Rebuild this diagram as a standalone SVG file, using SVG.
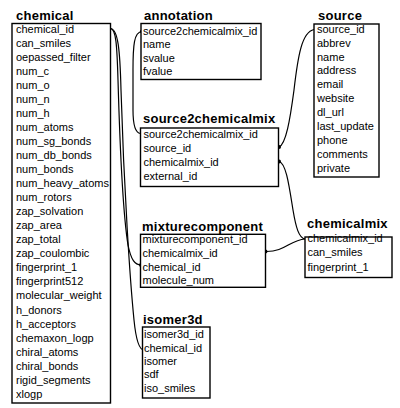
<svg xmlns="http://www.w3.org/2000/svg" width="400" height="408" viewBox="0 0 400 408">
<style>
.box{fill:#fff;stroke:#000;stroke-width:1.4}
.t{font-family:"Liberation Sans",Arial,sans-serif;font-size:13px;font-weight:bold;letter-spacing:0.25px;fill:#000}
.r{font-family:"Liberation Sans",Arial,sans-serif;font-size:11px;fill:#000}
.c{fill:none;stroke:#000;stroke-width:1.2}
.d{fill:#000}
</style>
<rect width="400" height="408" fill="#fff"/>
<g id="connectors">
<path class="c" d="M142,31.5 C134,32 133,45 133,70 L133,110 C133,125 135,133 140.5,133.5"/>
<path class="c" d="M110.5,28.5 C116,29 117,45 118,80 C120,150 124,220 128,245 C131,260 135,265 141,265"/>
<path class="c" d="M110.5,28.5 C118,29 120,50 121,90 C124,190 130,280 134,320 C136,340 139,350 144,350"/>
<path class="c" d="M279,147 C286,144 290,120 294,90 C298,55 302,32 314,29.5"/>
<path class="c" d="M279,161.5 C286,163 289,185 293,210 C296,228 299,238 305,239"/>
<path class="c" d="M265.5,251.5 C285,252 290,240 305,239"/>
<circle class="d" cx="142" cy="31.5" r="2"/>
<circle class="d" cx="141" cy="265" r="2"/>
<circle class="d" cx="144" cy="350" r="2"/>
<circle class="d" cx="279" cy="147" r="2"/>
<circle class="d" cx="279" cy="161.5" r="2"/>
<circle class="d" cx="265.5" cy="251.5" r="2"/>
</g>
<g id="chemical">
<text class="t" x="16" y="20">chemical</text>
<rect class="box" x="12" y="23.5" width="98.5" height="379.5"/>
<text class="r" x="16" y="32.5">chemical_id</text>
<text class="r" x="16" y="46.5">can_smiles</text>
<text class="r" x="16" y="60.6">oepassed_filter</text>
<text class="r" x="16" y="74.6">num_c</text>
<text class="r" x="16" y="88.7">num_o</text>
<text class="r" x="16" y="102.7">num_n</text>
<text class="r" x="16" y="116.8">num_h</text>
<text class="r" x="16" y="130.8">num_atoms</text>
<text class="r" x="16" y="144.9">num_sg_bonds</text>
<text class="r" x="16" y="158.9">num_db_bonds</text>
<text class="r" x="16" y="173">num_bonds</text>
<text class="r" x="16" y="187">num_heavy_atoms</text>
<text class="r" x="16" y="201.1">num_rotors</text>
<text class="r" x="16" y="215.1">zap_solvation</text>
<text class="r" x="16" y="229.2">zap_area</text>
<text class="r" x="16" y="243.2">zap_total</text>
<text class="r" x="16" y="257.3">zap_coulombic</text>
<text class="r" x="16" y="271.3">fingerprint_1</text>
<text class="r" x="16" y="285.4">fingerprint512</text>
<text class="r" x="16" y="299.4">molecular_weight</text>
<text class="r" x="16" y="313.5">h_donors</text>
<text class="r" x="16" y="327.5">h_acceptors</text>
<text class="r" x="16" y="341.6">chemaxon_logp</text>
<text class="r" x="16" y="355.6">chiral_atoms</text>
<text class="r" x="16" y="369.7">chiral_bonds</text>
<text class="r" x="16" y="383.7">rigid_segments</text>
<text class="r" x="16" y="397.8">xlogp</text>
</g>
<g id="annotation">
<text class="t" x="144" y="20">annotation</text>
<rect class="box" x="141" y="23.5" width="120" height="56"/>
<text class="r" x="143" y="34.5">source2chemicalmix_id</text>
<text class="r" x="143" y="48">name</text>
<text class="r" x="143" y="61.5">svalue</text>
<text class="r" x="143" y="75">fvalue</text>
</g>
<g id="source">
<text class="t" x="318" y="20">source</text>
<rect class="box" x="314" y="24" width="65" height="153"/>
<text class="r" x="317" y="32.7">source_id</text>
<text class="r" x="317" y="46.6">abbrev</text>
<text class="r" x="317" y="60.5">name</text>
<text class="r" x="317" y="74.4">address</text>
<text class="r" x="317" y="88.3">email</text>
<text class="r" x="317" y="102.2">website</text>
<text class="r" x="317" y="116.1">dl_url</text>
<text class="r" x="317" y="130">last_update</text>
<text class="r" x="317" y="143.9">phone</text>
<text class="r" x="317" y="157.8">comments</text>
<text class="r" x="317" y="171.7">private</text>
</g>
<g id="source2chemicalmix">
<text class="t" x="143" y="122.7">source2chemicalmix</text>
<rect class="box" x="140.5" y="128" width="138" height="58.5"/>
<text class="r" x="143.5" y="137.7">source2chemicalmix_id</text>
<text class="r" x="143.5" y="151.8">source_id</text>
<text class="r" x="143.5" y="165.9">chemicalmix_id</text>
<text class="r" x="143.5" y="180">external_id</text>
</g>
<g id="mixturecomponent">
<text class="t" x="142" y="230.7">mixturecomponent</text>
<rect class="box" x="140.5" y="234.3" width="125" height="53"/>
<text class="r" x="142.5" y="243.3">mixturecomponent_id</text>
<text class="r" x="142.5" y="256.9">chemicalmix_id</text>
<text class="r" x="142.5" y="270.5">chemical_id</text>
<text class="r" x="142.5" y="284">molecule_num</text>
</g>
<g id="chemicalmix">
<text class="t" x="307" y="228.3">chemicalmix</text>
<rect class="box" x="305" y="237" width="87" height="40.5"/>
<text class="r" x="307.5" y="242">chemicalmix_id</text>
<text class="r" x="307.5" y="256">can_smiles</text>
<text class="r" x="307.5" y="270.5">fingerprint_1</text>
</g>
<g id="isomer3d">
<text class="t" x="143" y="324.3">isomer3d</text>
<rect class="box" x="142.5" y="327" width="67.5" height="71"/>
<text class="r" x="144" y="338.3">isomer3d_id</text>
<text class="r" x="144" y="351.6">chemical_id</text>
<text class="r" x="144" y="364.9">isomer</text>
<text class="r" x="144" y="378.2">sdf</text>
<text class="r" x="144" y="391.5">iso_smiles</text>
</g>
</svg>
